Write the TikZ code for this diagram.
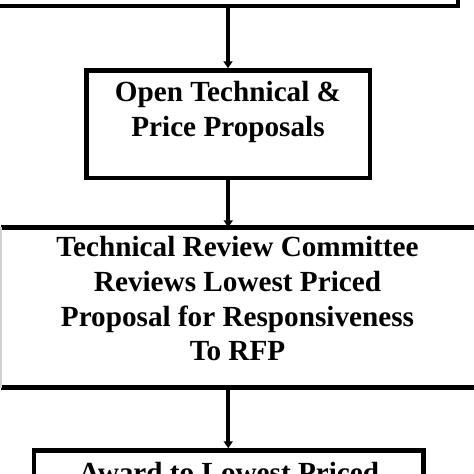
\documentclass[tikz,border=0pt]{standalone}
\usepackage{fontspec}
\setmainfont{Liberation Serif}
\usetikzlibrary{arrows.meta}
\begin{document}
\begin{tikzpicture}[x=1pt,y=-1pt,
  boxst/.style={draw=black,line width=4.5pt,inner sep=0pt,rectangle},
  arr/.style={line width=4pt,-{Triangle[width=9pt,length=7pt]}},
  txt/.style={align=center,inner sep=0pt,anchor=base,
    font=\bfseries\fontsize{29.2}{34.7}\selectfont}]
\useasboundingbox (0,0) rectangle (474,474);
\clip (0,0) rectangle (474,474);
\fill[white] (0,0) rectangle (474,474);
\node[boxst,minimum width=460pt,minimum height=100pt] (box1) at (228,-44) {};
\node[boxst,minimum width=283.5pt,minimum height=107.5pt] (box2) at (228.25,124.25) {};
\node[rectangle,inner sep=0pt,minimum width=479pt,minimum height=160pt] (box3) at (240.5,307.5) {};
\draw[line width=4.5pt] (box3.north west) -- (box3.north east);
\draw[line width=4.5pt] (box3.south west) -- (box3.south east);
\draw[line width=2pt,black!18] (box3.north west) -- (box3.south west);
\node[boxst,minimum width=389.5pt,minimum height=109pt] (box4) at (228.75,505) {};
\draw[arr] (box1.south) -- (box1.south |- box2.north);
\draw[arr] (box2.south) -- (box2.south |- box3.north);
\draw[arr] (box2.south |- box3.south) -- (box2.south |- box4.north);
\node[txt] (t2) at (228,136) {Open Technical \&\\Price Proposals};
\node[txt] (t3) at (237.5,360.7) {Technical Review Committee\\Reviews Lowest Priced\\Proposal for Responsiveness\\To RFP};
\node[txt] (t4) at (229,482.5) {Award to Lowest Priced};
\end{tikzpicture}
\end{document}
